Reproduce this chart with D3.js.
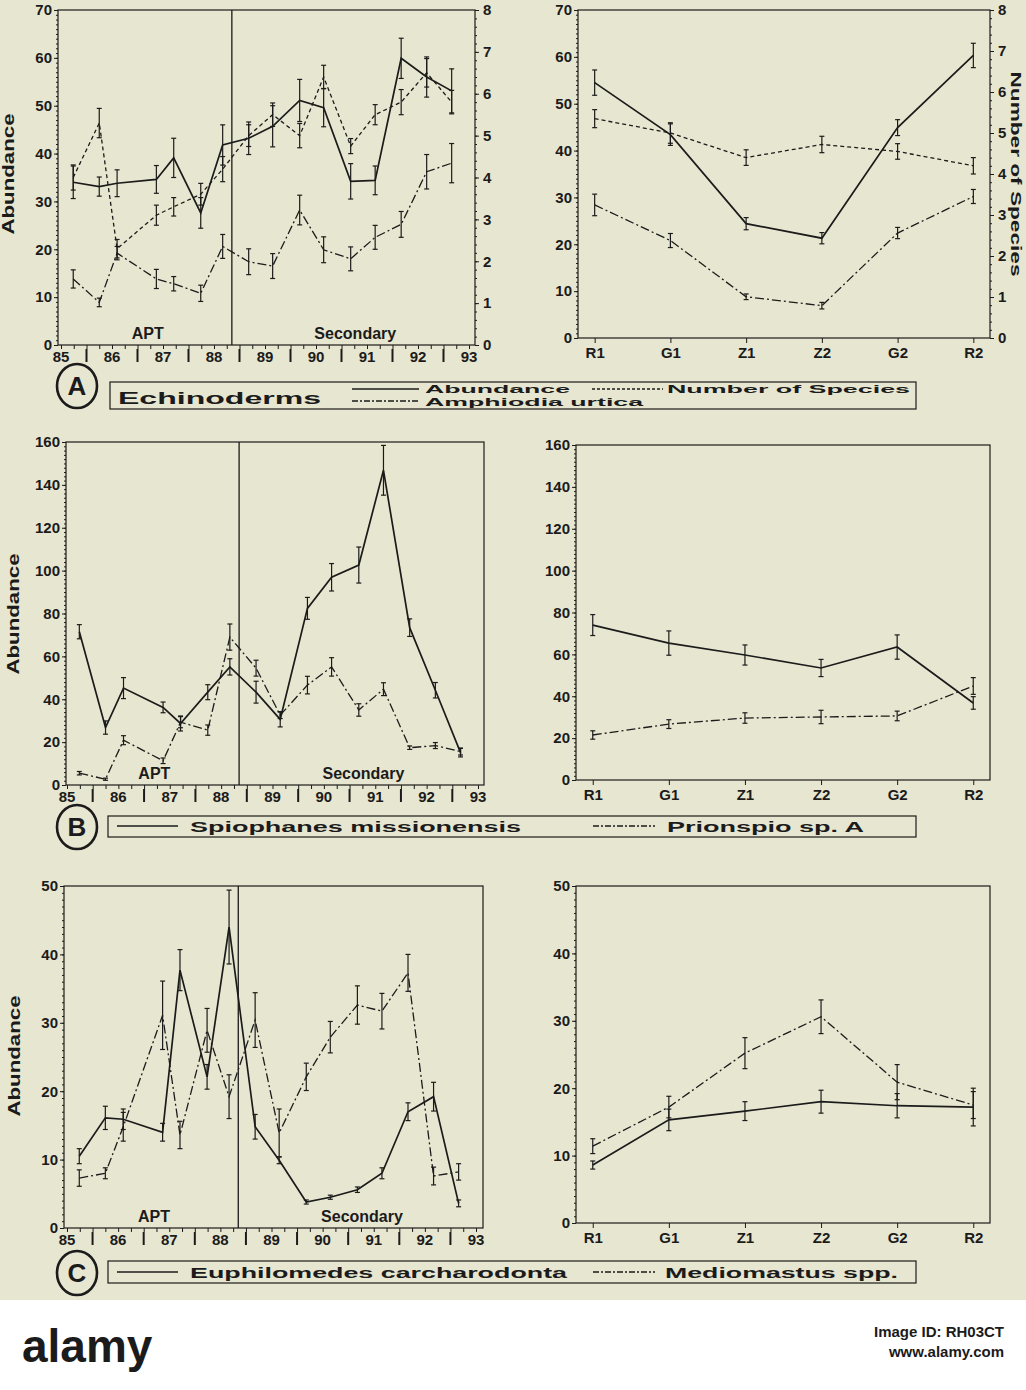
<!DOCTYPE html>
<html><head><meta charset="utf-8">
<script src="https://cdn.jsdelivr.net/npm/d3@7"></script>
<style>
body{margin:0;background:#e7e6d0;}
svg{display:block;}
text{font-family:"Liberation Sans",Arial,sans-serif;font-weight:bold;fill:#1b1b1b;}
</style>
</head><body><svg id="c" width="1026" height="1390"></svg>
<script>
// ---------- DATA ----------
const sampleDates = [85.24, 85.75, 86.1, 86.87, 87.21, 87.74, 88.17, 88.68, 89.15, 89.68, 90.15, 90.68, 91.16, 91.67, 92.17, 92.66];
const yearLabels = ["85","86","87","88","89","90","91","92","93"];
const stations = ["R1","G1","Z1","Z2","G2","R2"];
const periodLabels = ["APT","Secondary"];

// Panel A – Echinoderms (time)
const echinoAbund     = [34.0, 33.1, 33.8, 34.6, 39.1, 27.6, 41.8, 43.2, 45.7, 51.1, 49.6, 34.2, 34.4, 59.9, 56.0, 53.1];
const echinoAbundSE   = [3.4, 2.0, 2.8, 2.9, 4.1, 3.2, 4.2, 3.4, 4.3, 4.4, 4.0, 3.7, 3.0, 4.2, 4.2, 4.6];
const echinoSpecies   = [4.0, 5.3, 2.3, 3.1, 3.3, 3.6, 4.2, 5.0, 5.5, 5.0, 6.4, 4.75, 5.5, 5.8, 6.5, 5.8];
const echinoSpeciesSE = [0.3, 0.35, 0.22, 0.24, 0.22, 0.26, 0.3, 0.26, 0.28, 0.29, 0.28, 0.18, 0.24, 0.3, 0.34, 0.28];
const amphiodia       = [13.8, 8.9, 19.2, 13.8, 12.8, 10.8, 20.6, 17.4, 16.5, 28.2, 19.9, 18.0, 22.5, 25.2, 36.2, 38.0];
const amphiodiaSE     = [1.9, 0.9, 1.4, 2.0, 1.5, 1.7, 2.5, 2.7, 2.6, 3.1, 2.7, 2.5, 2.5, 2.7, 3.6, 4.1];
// Panel A – Echinoderms (stations)
const echinoAbundSt     = [54.5, 43.4, 24.4, 21.3, 44.9, 60.3];
const echinoAbundStSE   = [2.7, 2.3, 1.3, 1.2, 1.7, 2.6];
const echinoSpeciesSt   = [5.35, 5.0, 4.4, 4.72, 4.55, 4.2];
const echinoSpeciesStSE = [0.22, 0.25, 0.19, 0.2, 0.19, 0.2];
const amphiodiaSt       = [28.4, 20.8, 8.8, 6.9, 22.4, 30.2];
const amphiodiaStSE     = [2.3, 1.5, 0.6, 0.7, 1.2, 1.5];

// Panel B – Spiophanes / Prionspio (time)
const spioTime    = [71.5, 26.8, 45.2, 36.2, 28.7, 43.3, 55.1, 43.3, 30.6, 82.4, 96.9, 102.6, 146.8, 73.4, 44.2, 15.1];
const spioTimeSE  = [3.3, 3.1, 4.9, 2.5, 3.5, 3.5, 3.8, 5.1, 3.5, 5.1, 6.4, 8.4, 11.6, 4.1, 3.6, 2.0];
const prionTime   = [5.5, 2.7, 20.9, 11.3, 29.3, 25.6, 69.0, 54.5, 32.6, 46.6, 55.1, 35.0, 44.7, 17.4, 18.4, 15.6];
const prionTimeSE = [0.8, 0.5, 2.1, 1.3, 2.6, 2.4, 6.1, 3.7, 1.6, 4.1, 4.3, 2.9, 3.0, 0.8, 1.4, 1.6];
// Panel B – stations
const spioSt    = [74.0, 65.4, 59.7, 53.5, 63.5, 36.8];
const spioStSE  = [5.0, 5.8, 4.8, 4.1, 5.8, 3.0];
const prionSt   = [21.5, 26.7, 29.6, 30.1, 30.6, 44.9];
const prionStSE = [2.0, 2.1, 2.5, 3.2, 2.3, 4.0];

// Panel C – Euphilomedes / Mediomastus (time)
const euphTime    = [10.5, 16.1, 15.9, 14.0, 37.7, 22.1, 44.0, 14.8, 9.9, 3.8, 4.5, 5.6, 8.0, 17.0, 19.2, 3.6];
const euphTimeSE  = [1.1, 1.7, 1.5, 1.3, 3.0, 1.8, 5.4, 1.8, 0.5, 0.3, 0.3, 0.4, 0.8, 1.3, 2.1, 0.5];
const medioTime   = [7.3, 8.0, 14.8, 31.1, 13.6, 28.9, 19.2, 30.4, 13.9, 22.1, 27.9, 32.6, 31.7, 37.3, 7.6, 8.2];
const medioTimeSE = [1.2, 0.8, 2.1, 5.0, 2.0, 3.2, 3.2, 4.0, 3.5, 2.0, 2.3, 2.8, 2.6, 2.7, 1.3, 1.2];
// Panel C – stations
const euphSt    = [8.6, 15.3, 16.6, 18.0, 17.4, 17.2];
const euphStSE  = [0.6, 1.6, 1.4, 1.7, 1.8, 2.8];
const medioSt   = [11.4, 17.2, 25.2, 30.6, 20.9, 17.5];
const medioStSE = [1.1, 1.6, 2.3, 2.5, 2.6, 2.0];

// ---------- DRAWING ----------
const svg = d3.select("#c");
const INK = "#1b1b1b";
const styles = {
  solid:   {w:1.7, dash:null},
  dashed:  {w:1.3, dash:"4,3"},
  dashdot: {w:1.3, dash:"9,3,2,3"}
};

function styleAxis(g, size){
  g.select(".domain").remove();
  g.selectAll("line").attr("stroke", INK).attr("stroke-width", 1);
  g.selectAll("text").attr("font-size", size).attr("fill", INK)
    .attr("font-family", '"Liberation Sans",Arial,sans-serif').attr("font-weight","bold");
}

function drawSeries(g, xs, y, vals, se, style){
  const st = styles[style];
  const pts = vals.map((v,i)=>[xs[i], y(v)]);
  g.append("path").attr("d", d3.line()(pts)).attr("fill","none")
    .attr("stroke", INK).attr("stroke-width", st.w)
    .attr("stroke-dasharray", st.dash);
  vals.forEach((v,i)=>{
    const x = xs[i], y1 = y(v+se[i]), y2 = y(Math.max(0, v-se[i]));
    g.append("line").attr("x1",x).attr("x2",x).attr("y1",y1).attr("y2",y2).attr("stroke",INK).attr("stroke-width",1.2);
    [y1,y2].forEach(yy=>g.append("line").attr("x1",x-2.5).attr("x2",x+2.5).attr("y1",yy).attr("y2",yy).attr("stroke",INK).attr("stroke-width",1.2));
  });
}

function frame(g, x0, y0, x1, y1){
  g.append("rect").attr("x",x0).attr("y",y0).attr("width",x1-x0).attr("height",y1-y0)
    .attr("fill","none").attr("stroke",INK).attr("stroke-width",1.2);
}

function leftAxis(g, x0, y, max, step){
  const minor = g.append("g").attr("transform",`translate(${x0},0)`)
    .call(d3.axisLeft(y).tickValues(d3.range(0, max+0.001, step/10)).tickSize(2).tickFormat(""));
  styleAxis(minor, 15);
  const ax = g.append("g").attr("transform",`translate(${x0},0)`)
    .call(d3.axisLeft(y).tickValues(d3.range(0, max+0.001, step)).tickSize(4).tickPadding(2));
  styleAxis(ax, 15);
}

function rightSpeciesAxis(g, x1, ys){
  const minor = g.append("g").attr("transform",`translate(${x1},0)`)
    .call(d3.axisRight(ys).tickValues(d3.range(0, 8.001, 0.2)).tickSize(2).tickFormat(""));
  styleAxis(minor, 15);
  const ax = g.append("g").attr("transform",`translate(${x1},0)`)
    .call(d3.axisRight(ys).tickValues(d3.range(0, 9, 1)).tickSize(4).tickPadding(4));
  styleAxis(ax, 15);
}

function yLabel(g, text, x, y, len){
  g.append("text").attr("transform",`translate(${x},${y}) rotate(-90)`).attr("text-anchor","middle")
    .attr("font-size",17).attr("textLength",len).attr("lengthAdjust","spacingAndGlyphs").text(text);
}

function timePanel(cfg){
  const g = svg.append("g");
  const x = d3.scaleLinear().domain([85,93]).range(cfg.xr);
  const y = d3.scaleLinear().domain([0,cfg.ymax]).range([cfg.yb, cfg.yt]);
  frame(g, cfg.x0, cfg.yt, cfg.x1, cfg.yb);
  // divider APT / Secondary
  g.append("line").attr("x1",x(88.35)).attr("x2",x(88.35)).attr("y1",cfg.yt).attr("y2",cfg.yb).attr("stroke",INK).attr("stroke-width",1.3);
  g.append("text").attr("x",x(86.7)).attr("y",cfg.yb-6).attr("text-anchor","middle").attr("font-size",16).text(periodLabels[0]);
  g.append("text").attr("x",x(90.77)).attr("y",cfg.yb-6).attr("text-anchor","middle").attr("font-size",16).text(periodLabels[1]);
  leftAxis(g, cfg.x0, y, cfg.ymax, cfg.ystep);
  // bottom axis: quarterly ticks
  const bx = g.append("g").attr("transform",`translate(0,${cfg.yb})`)
    .call(d3.axisBottom(x).tickValues(d3.range(85, 93.01, 0.25)).tickSize(4).tickFormat(""));
  styleAxis(bx, 15);
  yearLabels.forEach((lab,i)=>{
    g.append("text").attr("x",x(85+i)).attr("y",cfg.yb+17).attr("text-anchor","middle").attr("font-size",15).text(lab);
    if(i<yearLabels.length-1){
      g.append("line").attr("x1",x(85.5+i)).attr("x2",x(85.5+i)).attr("y1",cfg.yb+4).attr("y2",cfg.yb+17)
        .attr("stroke",INK).attr("stroke-width",2);
    }
  });
  const xs = sampleDates.map(d=>x(d));
  if(cfg.species){
    const ys = d3.scaleLinear().domain([0,8]).range([cfg.yb, cfg.yt]);
    rightSpeciesAxis(g, cfg.x1, ys);
    drawSeries(g, xs, ys, cfg.species.vals, cfg.species.se, "dashed");
  }
  cfg.series.forEach(s=>drawSeries(g, xs, y, s.vals, s.se, s.style));
  yLabel(g, "Abundance", cfg.labX, cfg.labY, 121);
}

function stationPanel(cfg){
  const g = svg.append("g");
  const x = d3.scalePoint().domain(stations).range([cfg.x0, cfg.x1]).padding(0.22);
  const y = d3.scaleLinear().domain([0,cfg.ymax]).range([cfg.yb, cfg.yt]);
  frame(g, cfg.x0, cfg.yt, cfg.x1, cfg.yb);
  leftAxis(g, cfg.x0, y, cfg.ymax, cfg.ystep);
  const bx = g.append("g").attr("transform",`translate(0,${cfg.yb})`)
    .call(d3.axisBottom(x).tickSize(5).tickPadding(4));
  styleAxis(bx, 15);
  const xs = stations.map(s=>x(s));
  if(cfg.species){
    const ys = d3.scaleLinear().domain([0,8]).range([cfg.yb, cfg.yt]);
    rightSpeciesAxis(g, cfg.x1, ys);
    drawSeries(g, xs, ys, cfg.species.vals, cfg.species.se, "dashed");
    g.append("text").attr("transform",`translate(${1011},${(cfg.yt+cfg.yb)/2}) rotate(90)`).attr("text-anchor","middle")
      .attr("font-size",15).attr("textLength",205).attr("lengthAdjust","spacingAndGlyphs").text("Number of Species");
  }
  cfg.series.forEach(s=>drawSeries(g, xs, y, s.vals, s.se, s.style));
}

function sample(g, x1, x2, yy, style){
  const st = styles[style];
  g.append("line").attr("x1",x1).attr("x2",x2).attr("y1",yy).attr("y2",yy).attr("stroke",INK)
    .attr("stroke-width",st.w).attr("stroke-dasharray", style==="dashed" ? "3,2" : (style==="dashdot" ? "6,2,2,2" : null));
}
function ltext(g, x, yy, txt, len, size){
  g.append("text").attr("x",x).attr("y",yy).attr("font-size",size).attr("textLength",len)
    .attr("lengthAdjust","spacingAndGlyphs").text(txt);
}
function circleLetter(g, cx, cy, letter){
  g.append("ellipse").attr("cx",cx).attr("cy",cy).attr("rx",20).attr("ry",22).attr("fill","none").attr("stroke",INK).attr("stroke-width",2.6);
  g.append("text").attr("x",cx).attr("y",cy+9).attr("text-anchor","middle").attr("font-size",26).attr("font-weight","normal").text(letter);
}

// ---- Panel A ----
timePanel({x0:58, x1:475, xr:[61,469], yt:10, yb:345, ymax:70, ystep:10, labX:14, labY:174,
  species:{vals:echinoSpecies, se:echinoSpeciesSE},
  series:[{vals:echinoAbund, se:echinoAbundSE, style:"solid"},
          {vals:amphiodia, se:amphiodiaSE, style:"dashdot"}]});
stationPanel({x0:578, x1:990, yt:10, yb:338, ymax:70, ystep:10,
  species:{vals:echinoSpeciesSt, se:echinoSpeciesStSE},
  series:[{vals:echinoAbundSt, se:echinoAbundStSE, style:"solid"},
          {vals:amphiodiaSt, se:amphiodiaStSE, style:"dashdot"}]});
{
  const g = svg.append("g");
  circleLetter(g, 77, 386, "A");
  frame(g, 110, 382, 916, 409);
  ltext(g, 118, 404, "Echinoderms", 203, 17);
  sample(g, 352, 419, 389, "solid");
  ltext(g, 425, 393, "Abundance", 145, 11);
  sample(g, 592, 663, 389, "dashed");
  ltext(g, 667, 393, "Number of Species", 243, 11);
  sample(g, 352, 419, 401, "dashdot");
  ltext(g, 425, 406, "Amphiodia urtica", 218, 11);
}

// ---- Panel B ----
timePanel({x0:66, x1:484, xr:[67,478], yt:442, yb:785, ymax:160, ystep:20, labX:19, labY:614,
  series:[{vals:spioTime, se:spioTimeSE, style:"solid"},
          {vals:prionTime, se:prionTimeSE, style:"dashdot"}]});
stationPanel({x0:576, x1:990, yt:445, yb:780, ymax:160, ystep:20,
  series:[{vals:spioSt, se:spioStSE, style:"solid"},
          {vals:prionSt, se:prionStSE, style:"dashdot"}]});
{
  const g = svg.append("g");
  circleLetter(g, 77, 827, "B");
  frame(g, 108, 816, 916, 837);
  sample(g, 117, 178, 826, "solid");
  ltext(g, 190, 832, "Spiophanes missionensis", 331, 14);
  sample(g, 593, 655, 826, "dashdot");
  ltext(g, 667, 832, "Prionspio sp. A", 197, 14);
}

// ---- Panel C ----
timePanel({x0:64, x1:483, xr:[67,476], yt:886, yb:1228, ymax:50, ystep:10, labX:20, labY:1056,
  series:[{vals:euphTime, se:euphTimeSE, style:"solid"},
          {vals:medioTime, se:medioTimeSE, style:"dashdot"}]});
stationPanel({x0:576, x1:990, yt:886, yb:1223, ymax:50, ystep:10,
  series:[{vals:euphSt, se:euphStSE, style:"solid"},
          {vals:medioSt, se:medioStSE, style:"dashdot"}]});
{
  const g = svg.append("g");
  circleLetter(g, 77, 1273, "C");
  frame(g, 108, 1261, 916, 1283);
  sample(g, 117, 178, 1272, "solid");
  ltext(g, 190, 1278, "Euphilomedes carcharodonta", 377, 14);
  sample(g, 593, 655, 1272, "dashdot");
  ltext(g, 665, 1278, "Mediomastus spp.", 233, 14);
}

// ---- stock banner ----
{
  const g = svg.append("g");
  g.append("rect").attr("x",0).attr("y",1300).attr("width",1026).attr("height",90).attr("fill","#ffffff");
  g.append("text").attr("x",22).attr("y",1362).attr("font-size",46).attr("fill","#1a1a1a").text("alamy");
  g.append("text").attr("x",1004).attr("y",1337).attr("text-anchor","end").attr("font-size",15).attr("font-weight","normal").attr("fill","#333").text("Image ID: RH03CT");
  g.append("text").attr("x",1004).attr("y",1357).attr("text-anchor","end").attr("font-size",15).attr("font-weight","normal").attr("fill","#333").text("www.alamy.com");
}
</script></body></html>
